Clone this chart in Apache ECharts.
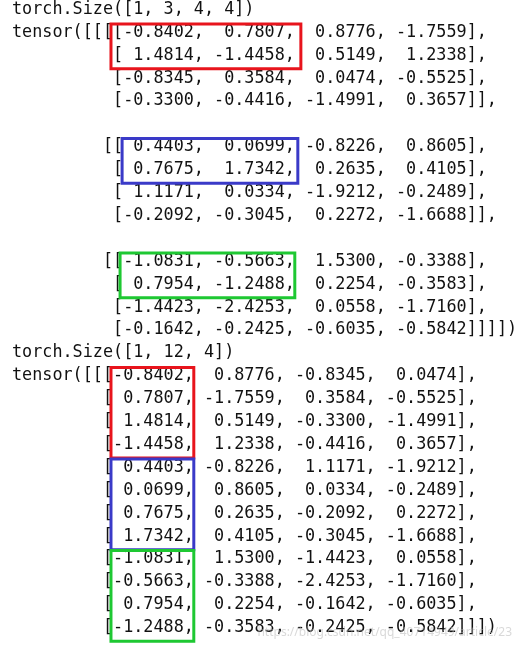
<!DOCTYPE html>
<html>
<head>
<meta charset="utf-8">
<script src="https://cdn.jsdelivr.net/npm/echarts@6/dist/echarts.min.js"></script>
<style>html,body{margin:0;padding:0;background:#fff;}#main{width:520px;height:649px;}</style>
</head>
<body>
<div id="main"></div>
<script>
// 原始张量 [1,3,4,4]
var tensorA=[
	[[-0.8402,0.7807,0.8776,-1.7559],[1.4814,-1.4458,0.5149,1.2338],[-0.8345,0.3584,0.0474,-0.5525],[-0.3300,-0.4416,-1.4991,0.3657]],
	[[0.4403,0.0699,-0.8226,0.8605],[0.7675,1.7342,0.2635,0.4105],[1.1171,0.0334,-1.9212,-0.2489],[-0.2092,-0.3045,0.2272,-1.6688]],
	[[-1.0831,-0.5663,1.5300,-0.3388],[0.7954,-1.2488,0.2254,-0.3583],[-1.4423,-2.4253,0.0558,-1.7160],[-0.1642,-0.2425,-0.6035,-0.5842]]
];
// 变换后 [1,12,4]
var tensorB=[
	[-0.8402,0.8776,-0.8345,0.0474],[0.7807,-1.7559,0.3584,-0.5525],[1.4814,0.5149,-0.3300,-1.4991],[-1.4458,1.2338,-0.4416,0.3657],
	[0.4403,-0.8226,1.1171,-1.9212],[0.0699,0.8605,0.0334,-0.2489],[0.7675,0.2635,-0.2092,0.2272],[1.7342,0.4105,-0.3045,-1.6688],
	[-1.0831,1.5300,-1.4423,0.0558],[-0.5663,-0.3388,-2.4253,-1.7160],[0.7954,0.2254,-0.1642,-0.6035],[-1.2488,-0.3583,-0.2425,-0.5842]
];
var sizeA='torch.Size([1, 3, 4, 4])';
var sizeB='torch.Size([1, 12, 4])';

function fmt(v){return (v<0?'-':' ')+Math.abs(v).toFixed(4);}
function row(r){return r.map(fmt).join(', ');}

var lines=[sizeA];
tensorA.forEach(function(blk,b){
	blk.forEach(function(r,i){
		var pre;
		if(i==0) pre=(b==0?'tensor([[[[':'         [[');
		else pre='          [';
		var post='],';
		if(i==3) post=(b==2?']]]])':']],');
		lines.push(pre+row(r)+post);
	});
	if(b<2) lines.push('');
});
lines.push(sizeB);
tensorB.forEach(function(r,i){
	var pre=(i==0?'tensor([[[':'         [');
	var post=(i==tensorB.length-1?']]])':'],');
	lines.push(pre+row(r)+post);
});

var X0=12,CW=10.1,Y0=12,LH=22.9;
// 框: [首行, 末行, 起始列, 结束列, 颜色]
var boxes=[
	[1,2,9.8,28.6,'#e8141c'],
	[6,7,10.9,28.3,'#3a3ac8'],
	[11,12,10.7,28.0,'#1ec832'],
	[16,19,9.8,18.0,'#e8141c'],
	[20,23,9.8,18.0,'#3a3ac8'],
	[24,27,9.8,18.0,'#1ec832']
];

var graphic=[];
lines.forEach(function(t,i){
	graphic.push({type:'text',left:X0,top:Y0+i*LH-11,style:{text:t,fill:'#111',font:'16.8px "DejaVu Sans Mono", monospace'}});
});
boxes.forEach(function(b){
	graphic.push({type:'rect',shape:{x:X0+b[2]*CW,y:Y0+b[0]*LH-11,width:(b[3]-b[2])*CW,height:(b[1]-b[0])*LH+22},
		style:{fill:'none',stroke:b[4],lineWidth:3}});
});
graphic.push({type:'text',right:8,bottom:10,style:{text:'https://blog.csdn.net/qq_40714949/article/23',fill:'rgba(180,180,180,0.5)',font:'12px "Noto Sans"'}});

var chart=echarts.init(document.getElementById('main'));
chart.setOption({graphic:graphic});
</script>
</body>
</html>
